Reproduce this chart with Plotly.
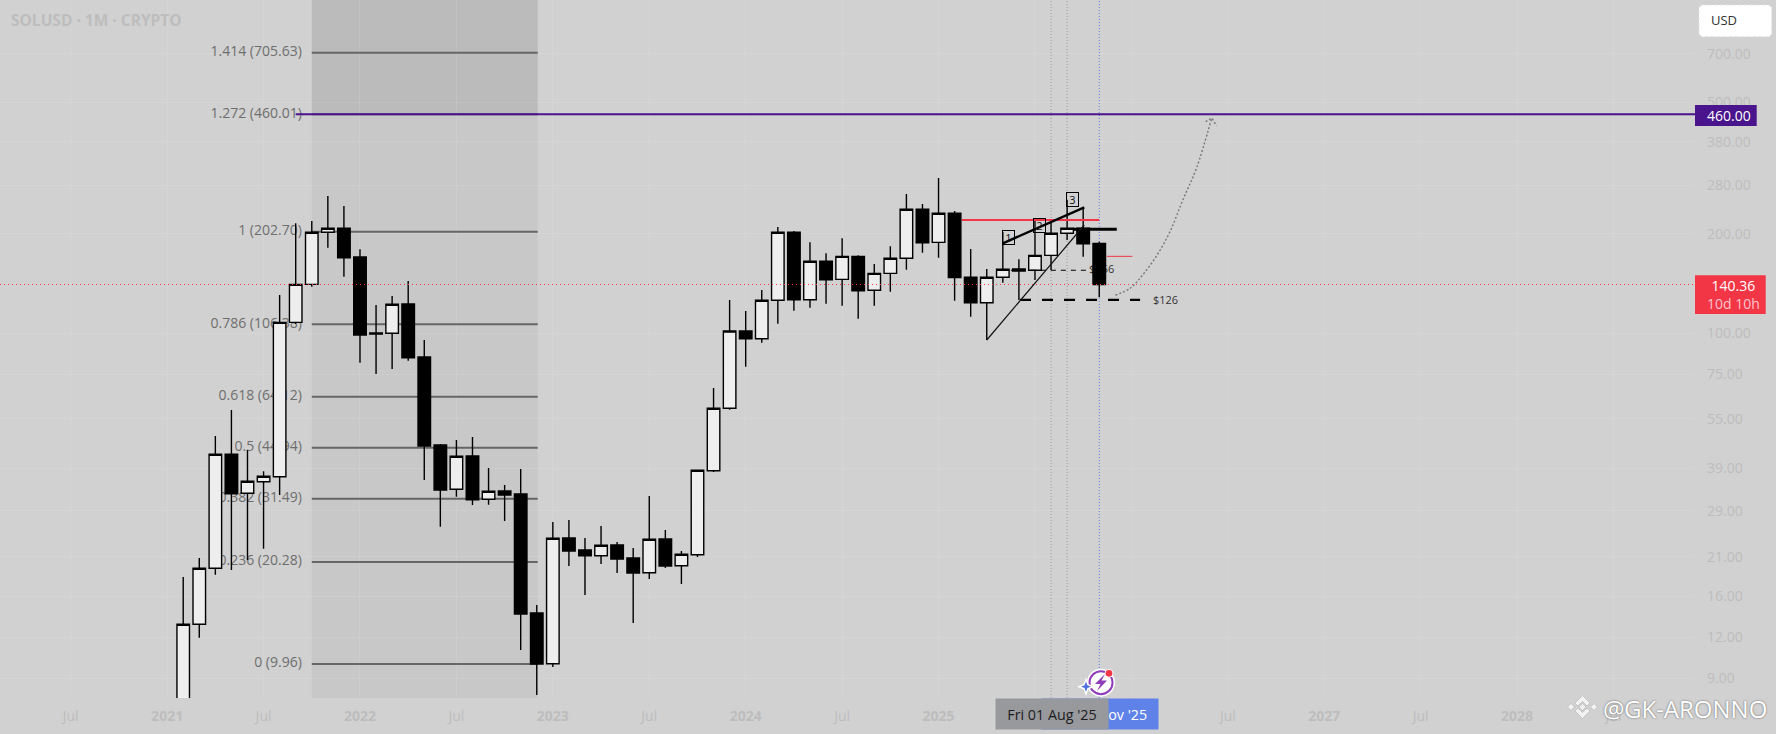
import numpy as np
import plotly.graph_objects as go

W, H = 1776, 734
PANE_RIGHT, PANE_BOTTOM = 1695, 698

# monthly bars, bar 0 = Jan 2022, first bar = Feb 2021
bars = list(range(-11, 47))
opens = [7.75, 13.14, 19.41, 42.97, 32.74, 35.5, 36.76, 107.8, 140.5, 202.0, 207.7, 170.0, 100.1, 99.9, 122.5,
         84.67, 45.85, 33.66, 42.46, 31.4, 33.27, 32.58, 14.21, 9.98, 23.97, 22.05, 21.19, 22.83, 20.85, 18.82,
         23.81, 19.76, 21.34, 38.3, 59.21, 101.5, 96.2, 125.7, 202.0, 126.2, 165.0, 145.5, 170.8, 134.8, 151.7,
         168.5, 237.1, 188.3, 230.6, 147.6, 123.6, 147.6, 156.4, 155.0, 172.0, 200.6, 207.7, 187.0]
highs = [18.26, 20.85, 48.8, 58.5, 44.3, 38.16, 130.4, 215.1, 218.5, 260.1, 242.6, 179.4, 121.7, 129.5, 143.8,
         95.32, 46.17, 47.5, 48.5, 39.05, 34.7, 38.8, 15.03, 26.8, 27.2, 23.97, 26.06, 23.32, 22.36, 32.13,
         25.34, 21.9, 38.5, 68.2, 126.0, 116.7, 135.1, 209.6, 203.8, 188.3, 174.5, 193.7, 172.0, 161.9, 183.1,
         263.8, 246.1, 294.9, 234.3, 179.8, 156.4, 202.4, 167.3, 220.0, 217.4, 253.0, 238.8, 189.1]
lows = [7.75, 11.96, 18.56, 19.18, 20.56, 22.25, 32.35, 106.6, 138.2, 181.4, 148.2, 81.37, 75.21, 77.87, 82.51,
        35.92, 25.94, 31.97, 30.17, 30.24, 26.99, 10.98, 8.02, 9.75, 19.72, 16.11, 20.0, 18.78, 13.26, 18.01,
        19.45, 17.4, 21.0, 37.98, 58.64, 79.13, 93.54, 106.8, 116.9, 119.4, 122.8, 121.1, 110.6, 121.1, 133.5,
        155.6, 175.2, 169.2, 125.4, 112.1, 95.32, 142.1, 126.0, 144.8, 155.3, 191.4, 170.4, 128.4]
closes = [13.14, 19.41, 42.97, 32.65, 35.6, 36.86, 107.8, 140.5, 202.0, 207.7, 169.2, 98.7, 99.4, 122.3, 84.25,
          45.53, 33.5, 42.37, 31.31, 33.2, 32.35, 14.11, 9.96, 23.92, 21.9, 21.19, 22.78, 20.7, 18.78, 23.76,
          19.72, 21.4, 38.43, 59.21, 101.5, 96.2, 125.7, 202.0, 126.2, 165.0, 145.1, 170.8, 134.4, 151.7, 168.5,
          237.1, 187.8, 230.6, 147.2, 123.6, 147.6, 156.1, 154.2, 172.0, 200.6, 207.7, 186.5, 140.36]

# fib retracement
fib_prices = [9.96, 20.28, 31.49, 44.94, 64.12, 106.38, 202.70, 460.01, 705.63]
fib_labels = ["0 (9.96)", "0.236 (20.28)", "0.382 (31.49)", "0.5 (44.94)", "0.618 (64.12)",
              "0.786 (106.38)", "1 (202.70)", "1.272 (460.01)", "1.414 (705.63)"]
fib_start, fib_end = -3, 11.06

# axis ticks
y_ticks = [700, 500, 380, 280, 200, 100, 75, 55, 39, 29, 21, 16, 12, 9]
x_ticks = [-18, -12, -6, 0, 6, 12, 18, 24, 30, 36, 42, 48, 54, 60, 66, 72, 78]
x_tick_text = ["Jul", "<b>2021</b>", "Jul", "<b>2022</b>", "Jul", "<b>2023</b>", "Jul", "<b>2024</b>", "Jul",
               "<b>2025</b>", "Jul", "<b>2026</b>", "Jul", "<b>2027</b>", "Jul", "<b>2028</b>", "Jul"]
x_range = [-22.4, 83.07]
y_range = [0.8953, 3.00855]
y_bottom, y_top = 10 ** y_range[0], 10 ** y_range[1]

# drawings on the chart
last_price = 140.36
target_price = 460.0
curve_bars = [47, 47.92, 48.7, 49.6, 50.4, 51.2, 52.05, 53.0]
curve_prices = [130.4, 136.7, 150.0, 172.4, 202.8, 253.0, 316.0, 448.0]
arrow_bars = [52.62, 53.0, 53.31]
arrow_prices = [436.6, 448.0, 423.8]
wave_bars = [40.34, 42.3, 44.36]
wave_prices = [194.1, 211.5, 253.0]
wave_labels = ["1", "2", "3"]

FONT = "Open Sans"
FAINT = "#bdbdbd"
RED = "#f23645"
PURPLE = "#4a148c"
GRID = "rgba(255,255,255,0.09)"


def px(x):
    return x / W


def py(y):
    return 1 - y / H


def poly(points):
    return "M " + " L ".join(f"{px(a):.5f},{py(b):.5f}" for a, b in points) + " Z"


def rect_px(x0, y0, x1, y1, color):
    return dict(type="rect", xref="paper", yref="paper", x0=px(x0), x1=px(x1), y0=py(y0), y1=py(y1),
                fillcolor=color, line_width=0, layer="above")


def circle_px(cx, cy, r, fill, line=None, lw=0):
    return dict(type="circle", xref="paper", yref="paper", x0=px(cx - r), x1=px(cx + r), y0=py(cy + r), y1=py(cy - r),
                fillcolor=fill, line=dict(color=line or fill, width=lw), layer="above")


def line(xs, ys, color="black", width=1.0, dash="solid", shape="linear", over=True):
    # everything drawn over the candles goes on the second pair of axes
    return go.Scatter(x=xs, y=ys, mode="lines", xaxis="x2" if over else "x", yaxis="y2" if over else "y",
                      hoverinfo="skip", showlegend=False, line=dict(color=color, width=width, dash=dash, shape=shape))


fig = go.Figure()

# vertical date markers pass behind the candles
fig.add_trace(line([43, 43], [y_bottom, y_top], "#9a9a9a", 1, "1px,2px", over=False))
fig.add_trace(line([44, 44], [y_bottom, y_top], "#9a9a9a", 1, "1px,2px", over=False))
fig.add_trace(line([46, 46], [y_bottom, y_top], "#5b7de8", 1, "1px,2px", over=False))

# fib lines and labels sit under the candles
for p in fib_prices:
    fig.add_trace(line([fib_start, fib_end], [p, p], "#666666", 2, over=False))
fig.add_trace(go.Scatter(x=[fib_start - 0.62] * len(fib_prices), y=fib_prices, mode="text", text=fib_labels,
                         textposition="middle left", hoverinfo="skip", showlegend=False,
                         textfont=dict(family=FONT, size=14, color="#6e6e6e")))
fig.add_trace(go.Scatter(x=[46.15], y=[155.0], mode="text", text=["$156"], hoverinfo="skip", showlegend=False,
                         textfont=dict(family=FONT, size=11, color="#333333")))

fig.add_trace(go.Candlestick(
    x=bars, open=opens, high=highs, low=lows, close=closes, xaxis="x2", yaxis="y2", showlegend=False,
    hoverinfo="skip",
    increasing=dict(fillcolor="#eeeeee", line=dict(color="black", width=1.4)),
    decreasing=dict(fillcolor="black", line=dict(color="black", width=1.4)),
))

# horizontal levels
fig.add_trace(line(x_range, [last_price, last_price], RED, 1, "1px,3px"))
fig.add_trace(line([-4, x_range[1]], [target_price, target_price], PURPLE, 2))
fig.add_trace(line([37.46, 46], [220.0, 220.0], RED, 2))
fig.add_trace(line([46.48, 48.06], [170.8, 170.8], RED, 1))
fig.add_trace(line([44.37, 47.09], [206.2, 206.2], "black", 3))
fig.add_trace(line([41.07, 48.54], [126.0, 126.0], "black", 2.2, "11px,11px"))
fig.add_trace(line([40.5, 45.3], [155.0, 155.0], "black", 1, "5px,5px"))

# trend lines
fig.add_trace(line([39, 45.07], [95.32, 212.5], "#111111", 1.2))
fig.add_trace(line([40, 45.07], [187.0, 240.4], "black", 2.4))

# projected path
fig.add_trace(line(curve_bars, curve_prices, "#777777", 1.4, "2px,2px", shape="spline"))
fig.add_trace(line(arrow_bars, arrow_prices, "#777777", 1.4, "2px,2px"))

annotations = []

for b, p, t in zip(wave_bars, wave_prices, wave_labels):
    annotations.append(dict(x=b, y=float(np.log10(p)), xref="x", yref="y", text=t, showarrow=False, width=11, height=13,
                            borderpad=0, borderwidth=1, bordercolor="black",
                            font=dict(family=FONT, size=11, color="#111111")))

annotations.append(dict(x=50.1, y=float(np.log10(126.0)), xref="x", yref="y", text="$126", showarrow=False,
                        font=dict(family=FONT, size=11, color="#333333")))


def label_px(x, y, text, size=14, color="#ffffff", anchor="left", **kw):
    return dict(x=px(x), y=py(y), xref="paper", yref="paper", text=text, showarrow=False, xanchor=anchor,
                yanchor="middle", borderpad=0, font=dict(family=FONT, size=size, color=color, **kw))


annotations.append(label_px(10, 20, "<b>SOLUSD · 1M · CRYPTO</b>", 15.5, FAINT))
annotations.append(label_px(1709.5, 20.5, "USD", 13, "#333333"))
annotations.append(label_px(1706, 115.5, "460.00"))
annotations.append(label_px(1706, 294.5, "140.36<br><span style='color:#ffc4cc'>10d 10h</span>"))

# crosshair date labels, the grey one lies over the blue one
annotations.append(dict(x=px(1100), y=py(714), xref="paper", yref="paper", text="Sat 01 Nov '25", showarrow=False,
                        width=116, height=30, borderpad=0, bgcolor="#5f82e8", yanchor="middle",
                        font=dict(family=FONT, size=14.3, color="#ffffff")))
annotations.append(dict(x=px(1052), y=py(714), xref="paper", yref="paper", text="Fri 01 Aug '25", showarrow=False,
                        width=112, height=30, borderpad=0, bgcolor="#98999c", yanchor="middle",
                        font=dict(family=FONT, size=14.3, color="#1c1c1c")))

# watermark
annotations.append(label_px(1601.7, 708.5, "@", 24, "#ffffff", shadow="0 0 2px #555555"))
annotations.append(label_px(1767.5, 708.5, "GK-ARONNO", 24, "#ffffff", anchor="right", shadow="0 0 2px #555555"))

shapes = [
    # fib zones
    dict(type="rect", xref="x", yref="y", x0=fib_start, x1=fib_end, y0=y_bottom, y1=460.01,
         fillcolor="rgba(0,0,0,0.04)", line_width=0, layer="below"),
    dict(type="rect", xref="x", yref="y", x0=fib_start, x1=fib_end, y0=460.01, y1=y_top,
         fillcolor="rgba(0,0,0,0.1)", line_width=0, layer="below"),
    # price badges
    rect_px(1695, 105, 1756.7, 126, PURPLE),
    rect_px(1695, 275.3, 1765.7, 314, RED),
    # currency button
    dict(type="path", xref="paper", yref="paper", fillcolor="#ffffff", line=dict(color="#e4e4e4", width=1, dash="dot"),
         layer="above",
         path=poly([(1702, 5), (1769, 5), (1771.7, 7.5), (1771.7, 34), (1769, 36.7), (1702, 36.7), (1699, 34), (1699, 7.5)])),
    # assistant icon
    circle_px(1101, 682.7, 14, "#ffffff"),
    circle_px(1101, 682.7, 11.5, "#ffffff", "#8e3cb8", 2),
    dict(type="path", xref="paper", yref="paper", fillcolor="#8e3cb8", line_width=0, layer="above",
         path=poly([(1105, 674), (1095, 684), (1100.5, 684), (1097, 691), (1107, 680.5), (1101.5, 680.5)])),
    dict(type="path", xref="paper", yref="paper", fillcolor="#4d6fe0", line=dict(color="#ffffff", width=1.5), layer="above",
         path=poly([(1086, 679.5), (1088, 684.7), (1093, 686.7), (1088, 688.7), (1086, 694), (1084, 688.7), (1079, 686.7), (1084, 684.7)])),
    circle_px(1109, 673.3, 4, RED, "#ffffff", 1),
]

# exchange logo of the watermark
for pts in [
    [(1582.5, 695.5), (1590, 703), (1587, 706), (1582.5, 701.5), (1578, 706), (1575, 703)],
    [(1582.5, 718.5), (1590, 711), (1587, 708), (1582.5, 712.5), (1578, 708), (1575, 711)],
    [(1582.5, 703.5), (1586, 707), (1582.5, 710.5), (1579, 707)],
    [(1571, 703.5), (1574.5, 707), (1571, 710.5), (1567.5, 707)],
    [(1594, 703.5), (1597.5, 707), (1594, 710.5), (1590.5, 707)],
]:
    shapes.append(dict(type="path", xref="paper", yref="paper", fillcolor="#f2f2f2", layer="above",
                       line=dict(color="#a8a8a8", width=0.5), path=poly(pts)))

domain_x = [0, PANE_RIGHT / W]
domain_y = [1 - PANE_BOTTOM / H, 1]

fig.update_layout(
    width=W, height=H, margin=dict(l=0, r=0, t=0, b=0), paper_bgcolor="#d1d1d1", plot_bgcolor="#d1d1d1",
    showlegend=False, hovermode=False, boxgap=0.22, boxgroupgap=0, dragmode=False,
    shapes=shapes, annotations=annotations,
    xaxis=dict(domain=domain_x, range=x_range, tickvals=x_ticks, ticktext=x_tick_text, tickangle=0, ticks="",
               showgrid=True, gridcolor=GRID, gridwidth=1, zeroline=False, showline=False,
               ticklabelstandoff=8, tickfont=dict(family=FONT, size=14, color=FAINT), anchor="y"),
    yaxis=dict(domain=domain_y, type="log", range=y_range, side="right", tickmode="array", tickvals=y_ticks,
               ticktext=[f"{v:.2f}" for v in y_ticks], ticks="", showgrid=True, gridcolor=GRID, gridwidth=1,
               zeroline=False, showline=False, ticklabelstandoff=11,
               tickfont=dict(family=FONT, size=14, color=FAINT), anchor="x"),
    xaxis2=dict(domain=domain_x, range=x_range, overlaying="x", anchor="y2", visible=False, showgrid=False,
                rangeslider=dict(visible=False)),
    yaxis2=dict(domain=domain_y, type="log", range=y_range, overlaying="y", anchor="x2", visible=False, showgrid=False),
)

fig.write_html("out.html", config={"displayModeBar": False},
               post_script="document.body.style.margin='0';document.documentElement.style.overflow='hidden';")
